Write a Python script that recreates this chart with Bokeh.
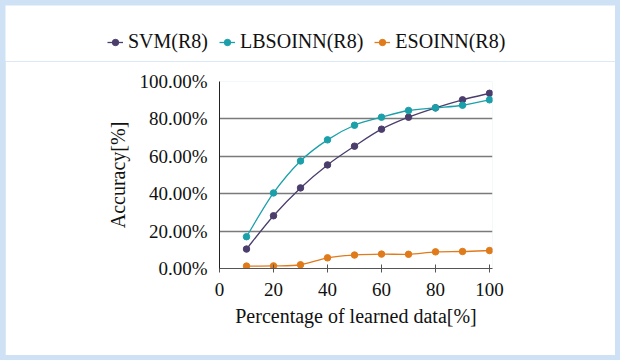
from bokeh.plotting import figure
from bokeh.layouts import column
from bokeh.models import (Range1d, FixedTicker, NumeralTickFormatter, Legend, LegendItem,
                          GlobalInlineStyleSheet, ColumnDataSource)
from bokeh.embed import file_html
from bokeh.resources import INLINE

# ---- data ----
pct = [10, 20, 30, 40, 50, 60, 70, 80, 90, 100]
svm = [0.104, 0.282, 0.431, 0.554, 0.654, 0.745, 0.809, 0.859, 0.902, 0.937]
lbsoinn = [0.170, 0.404, 0.575, 0.688, 0.766, 0.809, 0.845, 0.859, 0.873, 0.902]
esoinn = [0.013, 0.014, 0.020, 0.057, 0.072, 0.077, 0.076, 0.089, 0.091, 0.096]
series_names = ["SVM(R8)", "LBSOINN(R8)", "ESOINN(R8)"]
series_colors = ["#4b3e6c", "#1ba0aa", "#e07b1c"]
x_ticks = [0, 20, 40, 60, 80, 100]
y_ticks = [0, 0.2, 0.4, 0.6, 0.8, 1.0]

FONT = "Liberation Serif"

# ---- main plot ----
p = figure(width=610, height=294, output_backend="svg", toolbar_location=None,
           x_range=Range1d(0, 101.1), y_range=Range1d(0, 1.0),
           min_border_left=214, min_border_right=123, min_border_top=20, min_border_bottom=87)
p.frame_align = False
p.outline_line_color = None
p.background_fill_color = "white"
p.border_fill_color = "white"

p.xgrid.grid_line_color = None
p.ygrid.grid_line_color = "#7a7a7a"
p.ygrid.grid_line_width = 1.3
p.ygrid.ticker = FixedTicker(ticks=y_ticks)

p.xaxis.ticker = FixedTicker(ticks=x_ticks)
p.xaxis.axis_line_color = "#555555"
p.xaxis.major_tick_line_color = "#555555"
p.xaxis.major_tick_in = 4
p.xaxis.major_tick_out = 4
p.xaxis.minor_tick_line_color = None
p.xaxis.major_label_standoff = 10
p.xaxis.axis_label = "Percentage of learned data[%]"
p.xaxis.axis_label_standoff = 6

p.yaxis.ticker = FixedTicker(ticks=y_ticks)
p.yaxis.formatter = NumeralTickFormatter(format="0.00%")
p.yaxis.axis_line_color = "#222222"
p.yaxis.major_tick_line_color = None
p.yaxis.minor_tick_line_color = None
p.yaxis.major_label_standoff = 6
p.yaxis.axis_label = "Accuracy[%]"
p.yaxis.axis_label_standoff = 7

for ax in (p.xaxis, p.yaxis):
    ax.major_label_text_font = FONT
    ax.major_label_text_font_size = "19px"
    ax.major_label_text_color = "#111111"
    ax.axis_label_text_font = FONT
    ax.axis_label_text_font_size = "20px"
    ax.axis_label_text_font_style = "normal"
    ax.axis_label_text_color = "#111111"


def smooth_segments(xs, ys):
    # Catmull-Rom style control points for smoothed line rendering
    n = len(xs)
    d = dict(x0=[], y0=[], x1=[], y1=[], cx0=[], cy0=[], cx1=[], cy1=[])
    for i in range(n - 1):
        xm = xs[i - 1] if i > 0 else xs[i]
        ym = ys[i - 1] if i > 0 else ys[i]
        xp = xs[i + 2] if i + 2 < n else xs[i + 1]
        yp = ys[i + 2] if i + 2 < n else ys[i + 1]
        d["x0"].append(xs[i]); d["y0"].append(ys[i])
        d["x1"].append(xs[i + 1]); d["y1"].append(ys[i + 1])
        d["cx0"].append(xs[i] + (xs[i + 1] - xm) / 6)
        d["cy0"].append(ys[i] + (ys[i + 1] - ym) / 6)
        d["cx1"].append(xs[i + 1] - (xp - xs[i]) / 6)
        d["cy1"].append(ys[i + 1] - (yp - ys[i]) / 6)
    return ColumnDataSource(d)


for vals, col in zip([svm, lbsoinn, esoinn], series_colors):
    src = smooth_segments(pct, vals)
    p.bezier(x0="x0", y0="y0", x1="x1", y1="y1", cx0="cx0", cy0="cy0",
             cx1="cx1", cy1="cy1", source=src, line_color=col, line_width=1.3)
    p.scatter(pct, vals, size=6.5, marker="circle", fill_color=col, line_color=col)

# ---- legend strip (separate figure so the legend is not clipped) ----
lg = figure(width=610, height=56, output_backend="svg", toolbar_location=None,
            x_range=Range1d(0, 1), y_range=Range1d(5, 6),
            min_border_left=0, min_border_right=0, min_border_top=0, min_border_bottom=0)
lg.frame_align = False
lg.axis.visible = False
lg.grid.grid_line_color = None
lg.outline_line_color = None
lg.background_fill_color = "white"
lg.border_fill_color = "white"

items = []
for name, vals, col in zip(series_names, [svm, lbsoinn, esoinn], series_colors):
    r1 = lg.line(pct, vals, line_color=col, line_width=1.3)
    r2 = lg.scatter(pct, vals, size=6.5, marker="circle", fill_color=col, line_color=col)
    items.append(LegendItem(label=name, renderers=[r1, r2]))

legend = Legend(items=items, orientation="horizontal", location=(102, 8),
                glyph_width=16, glyph_height=16, label_standoff=5, spacing=11,
                padding=0, margin=0, border_line_color=None, background_fill_alpha=0)
legend.label_text_font = "'Liberation Serif', serif"
legend.label_text_font_style = "normal"
legend.label_text_font_size = "20px"
legend.label_text_color = "#111111"
lg.add_layout(legend, "center")

layout = column(lg, p, spacing=0)
layout.stylesheets = [GlobalInlineStyleSheet(css="body{margin:5px !important;background:#cfe2f5;}")]

open("out.html", "w").write(file_html(layout, INLINE))
